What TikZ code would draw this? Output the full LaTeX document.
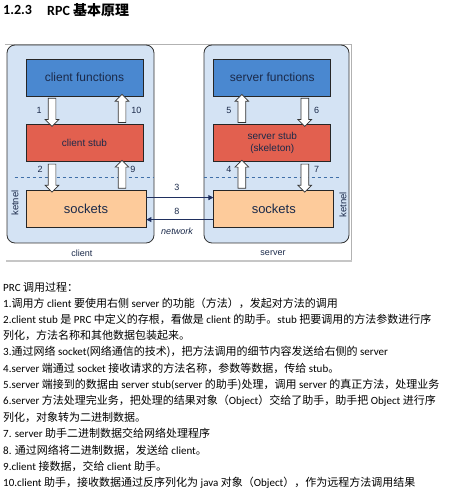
\documentclass[tikz,border=0pt]{standalone}
\usepackage{fontspec}
\setmainfont{Carlito}
\newfontfamily\arialfont{Liberation Sans}
\newfontfamily\cjk{Noto Sans CJK SC}
\newcommand\zh[1]{{\cjk #1}}
\usetikzlibrary{arrows.meta,positioning,calc,shapes.arrows,shadows}
\definecolor{panelblue}{HTML}{D4E3F4}
\definecolor{funcblue}{HTML}{4A88D0}
\definecolor{stubred}{HTML}{E2604F}
\definecolor{sockpeach}{HTML}{FDCB9B}
\definecolor{inkblue}{HTML}{1B2A4A}
\definecolor{netnavy}{HTML}{1F2F5F}
\definecolor{dashblue}{HTML}{3F6FA8}

\tikzset{
  panel/.style={draw=black!80,fill=panelblue,rounded corners=8pt,line width=.8pt},
  layer/.style={draw=black!85,line width=.8pt,inner sep=0pt,
                minimum width=117pt,minimum height=37pt,text=inkblue,
                font=\arialfont,align=center},
  fatarrow/.style={single arrow,draw=black!80,fill=white,line width=.7pt,
                   minimum height=28pt,minimum width=13pt,inner sep=3.5pt,
                   single arrow head extend=3pt},
  num/.style={font=\arialfont\small,text=inkblue,inner sep=0pt},
  net/.style={draw=netnavy,line width=.9pt,-{Triangle[width=5pt,length=5pt]}},
  dashline/.style={draw=dashblue,dashed,line width=.7pt},
  txtline/.style={anchor=west,inner sep=0pt,font=\fontsize{11}{13}\selectfont}
}

\begin{document}
\begin{tikzpicture}[x=1pt,y=1pt]
  \useasboundingbox (0,0) rectangle (474,496);

  % heading
  \node[anchor=west,inner sep=0pt,font=\fontsize{14}{16}\selectfont\bfseries]
    (secnum) at (3,486) {1.2.3};
  \node[anchor=west,inner sep=0pt,font=\fontsize{14}{16}\selectfont\bfseries]
    (sectitle) at (47,486) {RPC \zh{\bfseries 基本原理}};

  % screenshot frame
  \fill[white,drop shadow={shadow xshift=1pt,shadow yshift=-2pt,opacity=.45}]
    (5,236) rectangle (351,452);
  \draw[black!30,line width=.6pt] (5,452) -- (351,452) -- (351,236);

  % client / server panels
  \node[panel,minimum width=147pt,minimum height=198pt] (cpan) at (80.5,352) {};
  \node[panel,minimum width=145pt,minimum height=198pt] (span) at (276.5,352) {};

  \draw[dashline] ($(cpan.west |- 0,319)+(8,0)$) -- (cpan.east |- 0,319);
  \draw[dashline] (span.west |- 0,319) -- ($(span.east |- 0,319)+(-9,0)$);

  % client side
  \node[layer,fill=funcblue,font=\arialfont\fontsize{12}{14}\selectfont]
    (cfunc) at (84.5,418.5) {client functions};
  \node[layer,fill=stubred,font=\arialfont\fontsize{10}{12}\selectfont,
        below=28pt of cfunc] (cstub) {client stub};
  \node[layer,fill=sockpeach,minimum width=120pt,font=\arialfont\fontsize{13}{15}\selectfont,
        below=28pt of cstub.south west,anchor=north west] (csock) {sockets};

  % server side
  \node[layer,fill=funcblue,font=\arialfont\fontsize{12}{14}\selectfont,
        right=70pt of cfunc] (sfunc) {server functions};
  \node[layer,fill=stubred,font=\arialfont\fontsize{10}{12}\selectfont,
        below=28pt of sfunc] (sstub) {server stub\\(skeleton)};
  \node[layer,fill=sockpeach,minimum width=120pt,font=\arialfont\fontsize{13}{15}\selectfont,
        below=28pt of sstub.south west,anchor=north west] (ssock) {sockets};

  % hollow call arrows
  \node[fatarrow,shape border rotate=270] (a1) at ($(cfunc.south)!.5!(cstub.north)+(-32.5,0)$) {};
  \node[fatarrow,shape border rotate=90]  (a10) at ($(cfunc.south)!.5!(cstub.north)+(37.5,0)$) {};
  \node[fatarrow,shape border rotate=270] (a2) at ($(cstub.south)!.5!(cstub.south |- csock.north)+(-32.5,0)$) {};
  \node[fatarrow,shape border rotate=90]  (a9) at ($(cstub.south)!.5!(cstub.south |- csock.north)+(37.5,0)$) {};
  \node[fatarrow,shape border rotate=90]  (a5) at ($(sfunc.south)!.5!(sstub.north)+(-30.5,0)$) {};
  \node[fatarrow,shape border rotate=270] (a6) at ($(sfunc.south)!.5!(sstub.north)+(32.5,0)$) {};
  \node[fatarrow,shape border rotate=90]  (a4) at ($(sstub.south)!.5!(sstub.south |- ssock.north)+(-30.5,0)$) {};
  \node[fatarrow,shape border rotate=270] (a7) at ($(sstub.south)!.5!(sstub.south |- ssock.north)+(32.5,0)$) {};

  \node[num,left=6pt of a1]  (n1) {1};
  \node[num,right=5pt of a10] (n10) {10};
  \node[num,left=5pt of a2,yshift=7pt]  (n2) {2};
  \node[num,right=4pt of a9,yshift=7pt] (n9) {9};
  \node[num,left=6pt of a5]  (n5) {5};
  \node[num,right=5pt of a6] (n6) {6};
  \node[num,left=6pt of a4,yshift=7pt]  (n4) {4};
  \node[num,right=5pt of a7,yshift=7pt] (n7) {7};

  % network
  \draw[net] ([yshift=11.5pt]csock.east) -- ([yshift=11.5pt]csock.east -| ssock.west);
  \draw[net] ([yshift=-10.5pt]ssock.west) -- ([yshift=-10.5pt]ssock.west -| csock.east);
  \node[num] (n3) at (177,309) {3};
  \node[num] (n8) at (177,285) {8};
  \node[num,font=\arialfont\small\itshape] (netw) at (177,265) {network};

  \node[num,rotate=90,font=\arialfont\fontsize{9.5}{11}\selectfont] (kcli) at (15,293) {ketnel};
  \node[num,rotate=90,font=\arialfont\fontsize{9.5}{11}\selectfont] (ksrv) at (343,291) {ketnel};
  \node[num] (lcli) at (82,243) {client};
  \node[num] (lsrv) at (273,243) {server};

  % explanation
  \foreach \t [count=\i] in {
    {PRC \zh{调用过程：}},
    {1.\zh{调用方} client \zh{要使用右侧} server \zh{的功能（方法），发起对方法的调用}},
    {2.client stub \zh{是} PRC \zh{中定义的存根，看做是} client \zh{的助手。}stub \zh{把要调用的方法参数进行序}},
    {\zh{列化，方法名称和其他数据包装起来。}},
    {3.\zh{通过网络} socket(\zh{网络通信的技术)，把方法调用的细节内容发送给右侧的} server},
    {4.server \zh{端通过} socket \zh{接收请求的方法名称，参数等数据，传给} stub\zh{。}},
    {5.server \zh{端接到的数据由} server stub(server \zh{的助手)处理，调用} server \zh{的真正方法，处理业务}},
    {6.server \zh{方法处理完业务，把处理的结果对象（}Object\zh{）交给了助手，助手把} Object \zh{进行序}},
    {\zh{列化，对象转为二进制数据。}},
    {7. server \zh{助手二进制数据交给网络处理程序}},
    {8. \zh{通过网络将二进制数据，发送给} client\zh{。}},
    {9.client \zh{接数据，交给} client \zh{助手。}},
    {10.client \zh{助手，接收数据通过反序列化为} java \zh{对象（}Object\zh{），作为远程方法调用结果}}}
    \node[txtline] (line\i) at (3,{209-16.3*(\i-1)}) {\t};
\end{tikzpicture}
\end{document}
